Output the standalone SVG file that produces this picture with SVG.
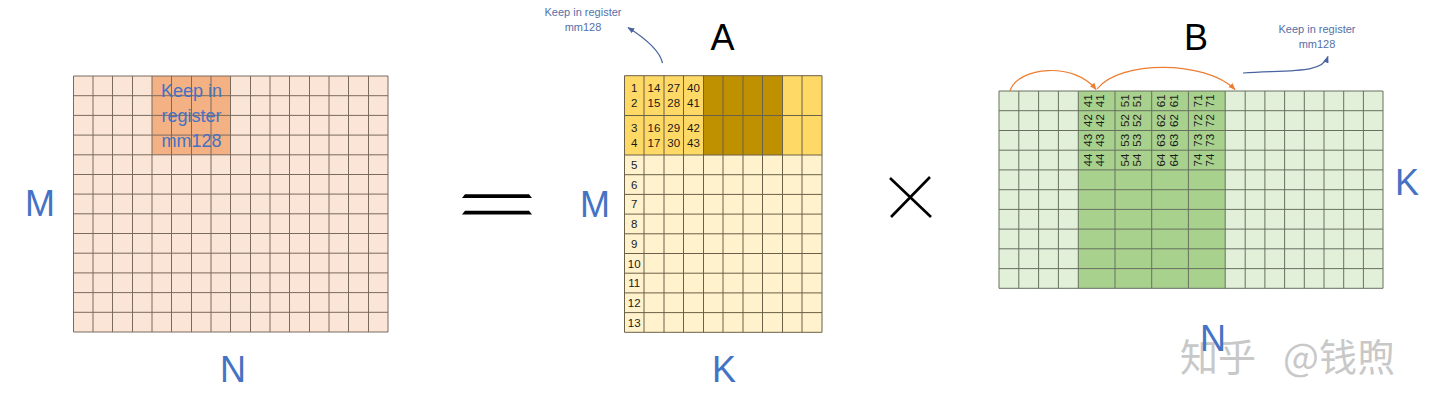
<svg xmlns="http://www.w3.org/2000/svg" width="1440" height="415" viewBox="0 0 1440 415">
<defs>
<style>
.big{font-family:"Liberation Sans",Arial,sans-serif;font-size:36px;text-anchor:middle}
.blue{fill:#4472C4}
.blk{fill:#000}
.num{font-family:"Liberation Sans",Arial,sans-serif;font-size:11.5px;fill:#1a1a1a;text-anchor:middle}
.small{font-family:"Liberation Sans",Arial,sans-serif;font-size:11px;fill:#5470A8;text-anchor:middle}
.grid{fill:none;stroke-width:1}
</style>
<marker id="arrBlue" viewBox="0 0 10 10" refX="9" refY="5" markerWidth="7" markerHeight="7" markerUnits="userSpaceOnUse" orient="auto"><path d="M0,1 L10,5 L0,9 z" fill="#4A64A0"/></marker>
<marker id="arrOrange" viewBox="0 0 10 10" refX="9" refY="5" markerWidth="7" markerHeight="7" markerUnits="userSpaceOnUse" orient="auto"><path d="M0,1 L10,5 L0,9 z" fill="#ED7D31"/></marker>
</defs>
<rect width="1440" height="415" fill="#fff"/>

<!-- watermark -->
<g id="watermark" font-family="'Noto Sans CJK SC',sans-serif" font-size="38" fill="#c8c8c8">
<text x="1180" y="371">知乎</text>
<text x="1283" y="371">@钱煦</text>
</g>

<!-- Left matrix C -->
<g id="matrixC">
<rect x="73.5" y="76" width="314.5" height="256" fill="#FBE5D6"/>
<rect x="152" y="76" width="78.5" height="78.8" fill="#F4B183"/>
<path class="grid" stroke="#7b6a5e" d="M73.5,76V332 M93,76V332 M112.5,76V332 M132.5,76V332 M152,76V332 M171.5,76V332 M191.5,76V332 M211,76V332 M230.5,76V332 M250.5,76V332 M270,76V332 M289.5,76V332 M309.5,76V332 M329,76V332 M348.5,76V332 M368.5,76V332 M388,76V332 M73.5,76H388 M73.5,95.7H388 M73.5,115.4H388 M73.5,135.1H388 M73.5,154.8H388 M73.5,174.5H388 M73.5,194.1H388 M73.5,213.8H388 M73.5,233.5H388 M73.5,253.2H388 M73.5,272.9H388 M73.5,292.6H388 M73.5,312.3H388 M73.5,332H388"/>
<text font-family="'Liberation Sans',Arial,sans-serif" font-size="18" fill="#4472C4" text-anchor="middle"><tspan x="191.5" y="97">Keep in</tspan><tspan x="191.5" y="122">register</tspan><tspan x="191.5" y="147">mm128</tspan></text>
</g>
<g id="labelsC">
<text class="big blue" x="40" y="216">M</text>
<text class="big blue" x="233" y="382">N</text>
</g>

<!-- equals -->
<g id="equals" fill="#000">
<polygon points="465,194.3 529,194.3 532,198 462,198"/>
<polygon points="465,210.8 529,210.8 532,214.6 462,214.6"/>
</g>

<!-- Matrix A -->
<g id="matrixA">
<rect x="624.5" y="75.7" width="197.5" height="79.3" fill="#FFD966"/>
<rect x="703.5" y="75.7" width="79" height="79.3" fill="#BF9000"/>
<rect x="624.5" y="155" width="197.5" height="177.3" fill="#FFF2CC"/>
<path class="grid" stroke="#6b6048" d="M624.5,75.7V332.3 M644,75.7V332.3 M664,75.7V332.3 M683.5,75.7V332.3 M703.5,75.7V332.3 M723,75.7V332.3 M743,75.7V332.3 M762.5,75.7V332.3 M782.5,75.7V332.3 M802,75.7V332.3 M822,75.7V332.3 M624.5,75.7H822 M624.5,115.5H822 M624.5,155H822 M624.5,174.7H822 M624.5,194.4H822 M624.5,214.1H822 M624.5,233.8H822 M624.5,253.5H822 M624.5,273.2H822 M624.5,292.9H822 M624.5,312.6H822 M624.5,332.3H822"/>
<g class="num">
<text x="634.25" y="92.3">1</text><text x="634.25" y="106.7">2</text><text x="634.25" y="132">3</text><text x="634.25" y="146.5">4</text>
<text x="654" y="92.3">14</text><text x="654" y="106.7">15</text><text x="654" y="132">16</text><text x="654" y="146.5">17</text>
<text x="673.75" y="92.3">27</text><text x="673.75" y="106.7">28</text><text x="673.75" y="132">29</text><text x="673.75" y="146.5">30</text>
<text x="693.5" y="92.3">40</text><text x="693.5" y="106.7">41</text><text x="693.5" y="132">42</text><text x="693.5" y="146.5">43</text>
<text x="634.25" y="169">5</text><text x="634.25" y="188.7">6</text><text x="634.25" y="208.4">7</text><text x="634.25" y="228.1">8</text><text x="634.25" y="247.8">9</text><text x="634.25" y="267.5">10</text><text x="634.25" y="287.2">11</text><text x="634.25" y="306.9">12</text><text x="634.25" y="326.6">13</text>
</g>
</g>
<g id="labelsA">
<text class="big blk" x="722.5" y="49.5">A</text>
<text class="big blue" x="595" y="217">M</text>
<text class="big blue" x="724" y="382">K</text>
<text class="small"><tspan x="583" y="16">Keep in register</tspan><tspan x="583" y="31">mm128</tspan></text>
</g>

<!-- times -->
<g id="times" stroke="#000" stroke-width="2.6" fill="none">
<path d="M890,178 L931,217 M930,177 L891,217"/>
</g>

<!-- Matrix B -->
<g id="matrixB">
<rect x="999" y="91" width="384" height="197.3" fill="#E2F0D9"/>
<rect x="1078.3" y="91" width="146.9" height="197.3" fill="#A9D18E"/>
<path class="grid" stroke="#66705f" d="M999,91V288.3 M1018.8,91V288.3 M1038.6,91V288.3 M1058.4,91V288.3 M1078.3,91V288.3 M1115,91V288.3 M1151.7,91V288.3 M1188.4,91V288.3 M1225.2,91V288.3 M1245.2,91V288.3 M1264.9,91V288.3 M1284.6,91V288.3 M1304.3,91V288.3 M1324,91V288.3 M1343.7,91V288.3 M1363.4,91V288.3 M1383,91V288.3 M999,91H1383 M999,110.7H1383 M999,130.5H1383 M999,150.2H1383 M999,169.9H1383 M999,189.7H1383 M999,209.4H1383 M999,229.1H1383 M999,248.8H1383 M999,268.6H1383 M999,288.3H1383"/>
<g class="num">
<text transform="translate(1091.8,100.85) rotate(-90)">41</text><text transform="translate(1104.3,100.85) rotate(-90)">41</text>
<text transform="translate(1128.5,100.85) rotate(-90)">51</text><text transform="translate(1141,100.85) rotate(-90)">51</text>
<text transform="translate(1165.2,100.85) rotate(-90)">61</text><text transform="translate(1177.7,100.85) rotate(-90)">61</text>
<text transform="translate(1201.9,100.85) rotate(-90)">71</text><text transform="translate(1214.4,100.85) rotate(-90)">71</text>

<text transform="translate(1091.8,120.6) rotate(-90)">42</text><text transform="translate(1104.3,120.6) rotate(-90)">42</text>
<text transform="translate(1128.5,120.6) rotate(-90)">52</text><text transform="translate(1141,120.6) rotate(-90)">52</text>
<text transform="translate(1165.2,120.6) rotate(-90)">62</text><text transform="translate(1177.7,120.6) rotate(-90)">62</text>
<text transform="translate(1201.9,120.6) rotate(-90)">72</text><text transform="translate(1214.4,120.6) rotate(-90)">72</text>

<text transform="translate(1091.8,140.35) rotate(-90)">43</text><text transform="translate(1104.3,140.35) rotate(-90)">43</text>
<text transform="translate(1128.5,140.35) rotate(-90)">53</text><text transform="translate(1141,140.35) rotate(-90)">53</text>
<text transform="translate(1165.2,140.35) rotate(-90)">63</text><text transform="translate(1177.7,140.35) rotate(-90)">63</text>
<text transform="translate(1201.9,140.35) rotate(-90)">73</text><text transform="translate(1214.4,140.35) rotate(-90)">73</text>

<text transform="translate(1091.8,160.05) rotate(-90)">44</text><text transform="translate(1104.3,160.05) rotate(-90)">44</text>
<text transform="translate(1128.5,160.05) rotate(-90)">54</text><text transform="translate(1141,160.05) rotate(-90)">54</text>
<text transform="translate(1165.2,160.05) rotate(-90)">64</text><text transform="translate(1177.7,160.05) rotate(-90)">64</text>
<text transform="translate(1201.9,160.05) rotate(-90)">74</text><text transform="translate(1214.4,160.05) rotate(-90)">74</text>
</g>
</g>
<g id="labelsB">
<text class="big blk" x="1196" y="50">B</text>
<text class="big blue" x="1407" y="195">K</text>
<text class="big blue" x="1213" y="350.5">N</text>
<text class="small"><tspan x="1317" y="33">Keep in register</tspan><tspan x="1317" y="47.5">mm128</tspan></text>
</g>

<!-- connectors -->
<g id="connectors" fill="none" stroke-width="1.2">
<path d="M662.5,63 Q659,47 628,27.5" stroke="#4A64A0" marker-end="url(#arrBlue)"/>
<path d="M1243,73 C1295,70 1322,73 1328,56.5" stroke="#4A64A0" marker-end="url(#arrBlue)"/>
<path d="M1010,91 C1018,66 1075,62 1096,89.5" stroke="#ED7D31" marker-end="url(#arrOrange)"/>
<path d="M1097,89 C1120,60 1205,60 1235,89.5" stroke="#ED7D31" marker-end="url(#arrOrange)"/>
</g>
</svg>
